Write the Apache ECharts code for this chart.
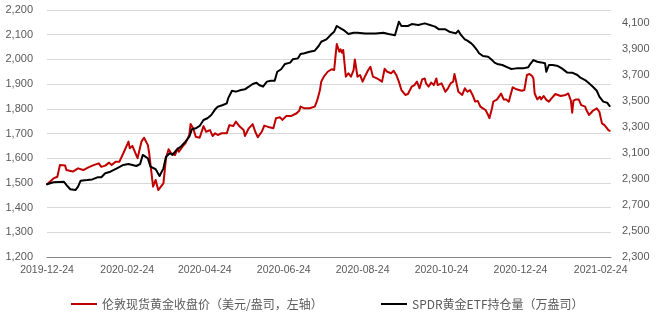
<!DOCTYPE html>
<html>
<head>
<meta charset="utf-8">
<script src="https://cdn.jsdelivr.net/npm/echarts@6/dist/echarts.min.js"></script>
<style>
html,body{margin:0;padding:0;background:#fff;}
#chart{width:656px;height:317px;}
</style>
</head>
<body>
<div id="chart"></div>
<script>
const goldDates = ['2019-12-24','2019-12-29','2020-01-01','2020-01-03','2020-01-07','2020-01-08','2020-01-13','2020-01-17','2020-01-21','2020-01-25','2020-01-29','2020-02-02','2020-02-04','2020-02-07','2020-02-10','2020-02-12','2020-02-15','2020-02-18','2020-02-21','2020-02-25','2020-02-26','2020-02-28','2020-03-03','2020-03-06','2020-03-08','2020-03-11','2020-03-12','2020-03-15','2020-03-17','2020-03-19','2020-03-23','2020-03-25','2020-03-27','2020-03-29','2020-04-01','2020-04-03','2020-04-04','2020-04-07','2020-04-09','2020-04-12','2020-04-13','2020-04-15','2020-04-17','2020-04-20','2020-04-23','2020-04-25','2020-04-28','2020-04-30','2020-05-02','2020-05-04','2020-05-07','2020-05-11','2020-05-13','2020-05-16','2020-05-18','2020-05-21','2020-05-24','2020-05-25','2020-05-28','2020-05-31','2020-06-02','2020-06-04','2020-06-07','2020-06-09','2020-06-13','2020-06-16','2020-06-18','2020-06-21','2020-06-23','2020-06-26','2020-06-30','2020-07-04','2020-07-06','2020-07-07','2020-07-10','2020-07-14','2020-07-18','2020-07-20','2020-07-22','2020-07-23','2020-07-25','2020-07-28','2020-07-31','2020-08-02','2020-08-03','2020-08-04','2020-08-06','2020-08-07','2020-08-08','2020-08-09','2020-08-11','2020-08-13','2020-08-15','2020-08-17','2020-08-18','2020-08-20','2020-08-22','2020-08-24','2020-08-26','2020-08-28','2020-08-30','2020-09-01','2020-09-04','2020-09-06','2020-09-08','2020-09-10','2020-09-12','2020-09-13','2020-09-15','2020-09-17','2020-09-19','2020-09-21','2020-09-23','2020-09-26','2020-09-28','2020-10-01','2020-10-03','2020-10-05','2020-10-07','2020-10-09','2020-10-11','2020-10-12','2020-10-14','2020-10-16','2020-10-18','2020-10-20','2020-10-21','2020-10-24','2020-10-27','2020-10-29','2020-10-31','2020-11-02','2020-11-03','2020-11-04','2020-11-06','2020-11-07','2020-11-09','2020-11-11','2020-11-13','2020-11-15','2020-11-17','2020-11-19','2020-11-21','2020-11-23','2020-11-25','2020-11-27','2020-11-29','2020-11-30','2020-12-02','2020-12-03','2020-12-06','2020-12-09','2020-12-10','2020-12-11','2020-12-13','2020-12-15','2020-12-16','2020-12-18','2020-12-21','2020-12-25','2020-12-27','2020-12-29','2020-12-31','2021-01-02','2021-01-03','2021-01-04','2021-01-06','2021-01-08','2021-01-09','2021-01-11','2021-01-13','2021-01-15','2021-01-17','2021-01-20','2021-01-24','2021-01-28','2021-01-30','2021-02-01','2021-02-02','2021-02-03','2021-02-05','2021-02-07','2021-02-09','2021-02-12','2021-02-13','2021-02-15','2021-02-18','2021-02-21','2021-02-23','2021-02-25','2021-02-27','2021-03-02','2021-03-03'];
const goldPrices = [1495,1518,1525,1572,1570,1552,1546,1559,1552,1563,1572,1579,1565,1570,1582,1572,1586,1586,1620,1667,1640,1650,1600,1667,1683,1653,1620,1485,1512,1471,1498,1600,1636,1620,1613,1640,1626,1649,1660,1694,1738,1721,1687,1683,1730,1707,1714,1690,1701,1694,1701,1701,1734,1730,1748,1728,1714,1690,1721,1738,1707,1685,1707,1732,1725,1721,1762,1766,1755,1771,1771,1782,1792,1809,1802,1802,1809,1836,1876,1910,1930,1950,1960,1957,2011,2062,2031,2041,2027,2038,1930,1944,1930,1957,2000,1930,1937,1910,1933,1954,1970,1930,1923,1917,1910,1962,1950,1957,1944,1954,1937,1910,1876,1856,1860,1890,1896,1910,1883,1919,1923,1903,1890,1906,1896,1923,1896,1903,1869,1883,1903,1910,1941,1917,1869,1876,1856,1883,1869,1876,1856,1829,1832,1809,1802,1795,1775,1762,1802,1829,1838,1862,1865,1838,1838,1829,1849,1887,1879,1873,1876,1937,1941,1933,1923,1862,1838,1849,1838,1852,1836,1829,1842,1860,1852,1856,1862,1833,1784,1833,1838,1838,1815,1809,1795,1775,1792,1802,1788,1741,1734,1714,1711];

const etfDates = ['2019-12-24','2019-12-29','2020-01-06','2020-01-08','2020-01-11','2020-01-15','2020-01-17','2020-01-19','2020-01-24','2020-01-28','2020-02-01','2020-02-04','2020-02-07','2020-02-11','2020-02-16','2020-02-21','2020-02-25','2020-02-28','2020-03-02','2020-03-05','2020-03-07','2020-03-08','2020-03-11','2020-03-13','2020-03-17','2020-03-20','2020-03-23','2020-03-25','2020-03-28','2020-03-30','2020-04-02','2020-04-06','2020-04-09','2020-04-12','2020-04-14','2020-04-17','2020-04-20','2020-04-23','2020-04-26','2020-04-29','2020-05-02','2020-05-04','2020-05-08','2020-05-11','2020-05-12','2020-05-15','2020-05-18','2020-05-22','2020-05-25','2020-05-28','2020-05-31','2020-06-03','2020-06-05','2020-06-08','2020-06-11','2020-06-14','2020-06-17','2020-06-19','2020-06-22','2020-06-25','2020-06-29','2020-07-01','2020-07-05','2020-07-07','2020-07-10','2020-07-14','2020-07-18','2020-07-21','2020-07-23','2020-07-27','2020-07-31','2020-08-02','2020-08-04','2020-08-07','2020-08-10','2020-08-13','2020-08-17','2020-08-20','2020-08-26','2020-09-03','2020-09-09','2020-09-13','2020-09-18','2020-09-21','2020-09-23','2020-09-28','2020-10-01','2020-10-06','2020-10-11','2020-10-15','2020-10-19','2020-10-22','2020-10-27','2020-10-30','2020-11-04','2020-11-06','2020-11-08','2020-11-11','2020-11-13','2020-11-16','2020-11-18','2020-11-20','2020-11-22','2020-11-25','2020-11-29','2020-11-30','2020-12-02','2020-12-03','2020-12-04','2020-12-06','2020-12-10','2020-12-14','2020-12-17','2020-12-21','2020-12-26','2020-12-30','2021-01-01','2021-01-03','2021-01-06','2021-01-09','2021-01-12','2021-01-13','2021-01-15','2021-01-18','2021-01-22','2021-01-25','2021-01-29','2021-02-02','2021-02-06','2021-02-08','2021-02-12','2021-02-15','2021-02-18','2021-02-21','2021-02-23','2021-02-26','2021-03-01','2021-03-03'];
const etfHoldings = [2860,2875,2879,2854,2821,2815,2841,2887,2892,2897,2913,2913,2944,2956,2982,3008,3015,3008,3000,3015,3085,3098,3059,2995,2975,2923,2982,3071,3098,3085,3123,3154,3187,3225,3282,3290,3308,3354,3367,3392,3436,3456,3469,3482,3520,3579,3572,3585,3590,3610,3631,3641,3623,3610,3649,3656,3656,3725,3744,3785,3795,3821,3828,3862,3867,3879,3887,3923,3956,3974,4015,4033,4077,4059,4041,4015,4025,4025,4020,4020,4025,4015,4005,4110,4077,4077,4092,4085,4097,4085,4072,4051,4051,4033,4020,4041,4008,3974,3964,3943,3923,3898,3867,3846,3841,3828,3815,3810,3795,3785,3777,3759,3746,3751,3751,3759,3790,3815,3802,3797,3790,3725,3777,3777,3769,3751,3720,3718,3700,3682,3661,3636,3610,3579,3533,3495,3487,3461];

const xTickDates = ['2019-12-24','2020-02-24','2020-04-24','2020-06-24','2020-08-24','2020-10-24','2020-12-24','2021-02-24'];
const xStart = '2019-12-24';
const xEnd = '2021-03-04';

const goldName = '伦敦现货黄金收盘价（美元/盎司，左轴）';
const etfName = 'SPDR黄金ETF持仓量（万盎司）';

const DAY = 86400000;
function utc(s){ const p = s.split('-').map(Number); return Date.UTC(p[0], p[1]-1, p[2]); }
function dayIndex(s){ return Math.round((utc(s) - utc(xStart)) / DAY); }
function pad(n){ return (n<10?'0':'')+n; }
function fmtDay(v){ const d = new Date(utc(xStart) + Math.round(v) * DAY); return d.getUTCFullYear()+'-'+pad(d.getUTCMonth()+1)+'-'+pad(d.getUTCDate()); }
function thousands(v){ return String(v).replace(/\B(?=(\d{3})+(?!\d))/g, ','); }

const goldData = goldDates.map((d,i)=>[dayIndex(d), goldPrices[i]]);
const etfData = etfDates.map((d,i)=>[dayIndex(d), etfHoldings[i]]);

const labelColor = '#595959';
const font = 'Liberation Sans, Arial, sans-serif';

const chart = echarts.init(document.getElementById('chart'), null, {renderer:'canvas'});
chart.setOption({
  animation: false,
  backgroundColor: '#fff',
  grid: {left: 47, right: 45, top: 10, bottom: 60, containLabel: false},
  legend: [
    {left: 66, top: 293, itemWidth: 26, itemHeight: 2, itemGap: 4, icon: 'rect',
     data: [goldName], textStyle: {color: labelColor, fontSize: 12, fontFamily: 'Noto Sans CJK SC'}},
    {left: 376, top: 293, itemWidth: 26, itemHeight: 2, itemGap: 4, icon: 'rect',
     data: [etfName], textStyle: {color: labelColor, fontSize: 12, fontFamily: 'Noto Sans CJK SC'}}
  ],
  xAxis: {
    type: 'value',
    min: 0, max: dayIndex(xEnd),
    axisLine: {show: true, onZero: false, lineStyle: {color: '#868686', width: 1}},
    axisTick: {show: false},
    splitLine: {show: false},
    axisLabel: {
      customValues: xTickDates.map(dayIndex),
      formatter: v => fmtDay(v),
      color: labelColor, fontSize: 10.5, fontFamily: font, margin: 8
    }
  },
  yAxis: [
    {type: 'value', min: 1200, max: 2200, interval: 100, position: 'left',
     axisLine: {show: false}, axisTick: {show: false},
     splitLine: {show: true, lineStyle: {color: '#d9d9d9', width: 1}},
     axisLabel: {formatter: v => thousands(v), color: labelColor, fontSize: 11, fontFamily: font, margin: 14}},
    {type: 'value', min: 2300, max: 4200, interval: 200, position: 'right',
     axisLine: {show: false}, axisTick: {show: false},
     splitLine: {show: false},
     axisLabel: {formatter: v => thousands(v), showMaxLabel: false, color: labelColor, fontSize: 11, fontFamily: font, margin: 11}}
  ],
  series: [
    {name: goldName, type: 'line', yAxisIndex: 0, data: goldData, symbol: 'none', showSymbol: false,
     lineStyle: {color: '#c00000', width: 2, join: 'round', cap: 'round'}, itemStyle: {color: '#c00000'}, z: 2},
    {name: etfName, type: 'line', yAxisIndex: 1, data: etfData, symbol: 'none', showSymbol: false,
     lineStyle: {color: '#000000', width: 2, join: 'round', cap: 'round'}, itemStyle: {color: '#000000'}, z: 3}
  ]
});
</script>
</body>
</html>
